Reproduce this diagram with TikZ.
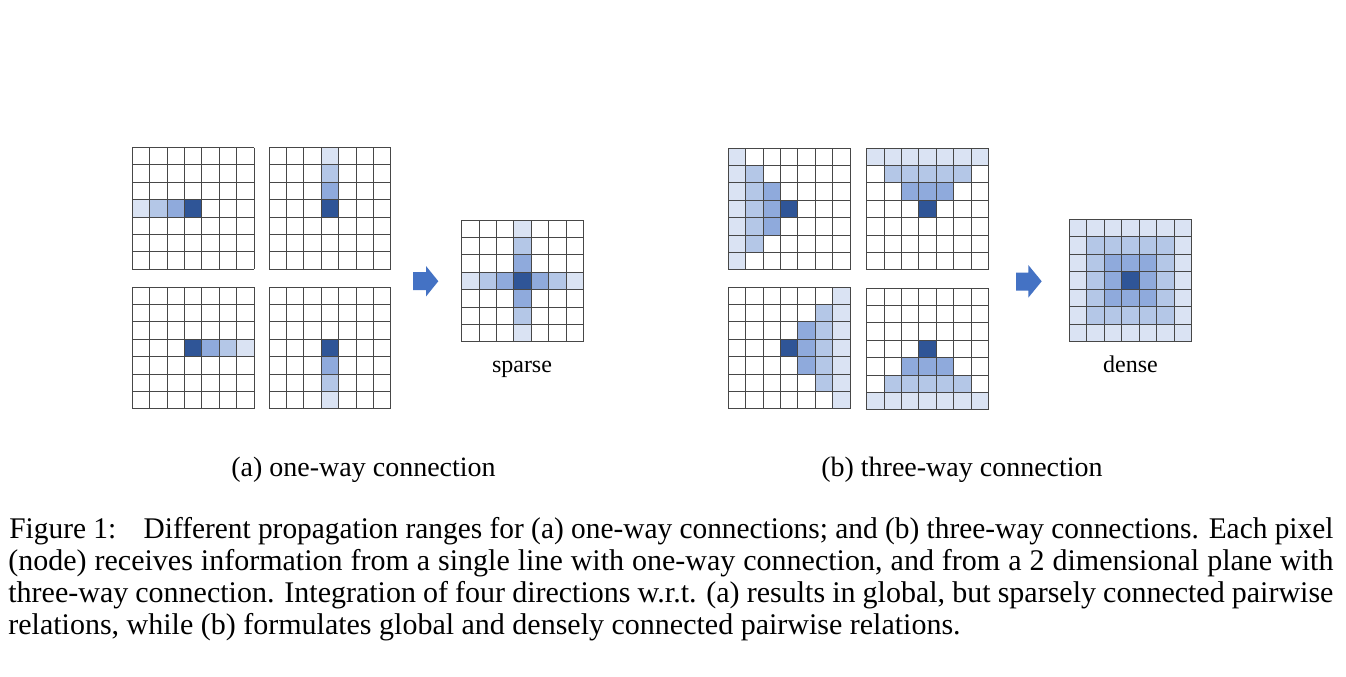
\documentclass[tikz,border=0pt]{standalone}
\usepackage{fontspec}
\setmainfont{Liberation Serif}
\usepackage{graphicx}
\definecolor{lv0}{HTML}{2F5597}
\definecolor{lv1}{HTML}{8FAADC}
\definecolor{lv2}{HTML}{B4C7E7}
\definecolor{lv3}{HTML}{DAE3F3}
\definecolor{arrowblue}{HTML}{4472C4}
\def\cs{17.4}
\tikzset{
  gl/.style={line width=0.5pt, draw=black!72},
  blockarrow/.style={fill=arrowblue, draw=none},
  sublabel/.style={anchor=base, inner sep=0pt, font=\fontsize{14}{16}\selectfont},
  gridlabel/.style={anchor=base, inner sep=0pt, font=\fontsize{12}{14}\selectfont},
  capline/.style={anchor=base west, inner sep=0pt}
}
\newcommand\capfont{\fontsize{15}{16}\selectfont}
\newcommand\cellgrid[3]{%
  \begin{scope}[shift={(#1,#2)}]
    \foreach \c/\r/\col in {#3} {\fill[\col] (\c*\cs,\r*\cs) rectangle ++(\cs,\cs);}
    \foreach \i in {0,...,7} {
      \draw[gl] (\i*\cs,0) -- (\i*\cs,7*\cs);
      \draw[gl] (0,\i*\cs) -- (7*\cs,\i*\cs);
    }
  \end{scope}}
\begin{document}
\begin{tikzpicture}[x=0.5pt,y=-0.5pt]
\useasboundingbox (0,0) rectangle (1346,676);
\fill[white] (0,0) rectangle (1346,676);

% (a) one-way connection
\cellgrid{132.3}{147.5}{3/3/lv0, 2/3/lv1, 1/3/lv2, 0/3/lv3}
\cellgrid{269}{147.5}{3/3/lv0, 3/2/lv1, 3/1/lv2, 3/0/lv3}
\cellgrid{132.3}{287}{3/3/lv0, 4/3/lv1, 5/3/lv2, 6/3/lv3}
\cellgrid{269}{287}{3/3/lv0, 3/4/lv1, 3/5/lv2, 3/6/lv3}
\fill[blockarrow] (413,272) -- (426,272) -- (426,266) -- (438.3,281.2) -- (426,296.5) -- (426,290) -- (413,290) -- cycle;
\cellgrid{461.7}{220}{3/3/lv0, 2/3/lv1, 1/3/lv2, 0/3/lv3, 4/3/lv1, 5/3/lv2, 6/3/lv3,
  3/2/lv1, 3/1/lv2, 3/0/lv3, 3/4/lv1, 3/5/lv2, 3/6/lv3}
\node[gridlabel] (sparse) at (522,372) {sparse};
\node[sublabel] (capa) at (363.5,476) {(a) one-way connection};

% (b) three-way connection
\cellgrid{728.3}{148}{0/0/lv3, 0/1/lv3, 0/2/lv3, 0/3/lv3, 0/4/lv3, 0/5/lv3, 0/6/lv3,
  1/1/lv2, 1/2/lv2, 1/3/lv2, 1/4/lv2, 1/5/lv2, 2/2/lv1, 2/3/lv1, 2/4/lv1, 3/3/lv0}
\cellgrid{866.7}{148}{0/0/lv3, 1/0/lv3, 2/0/lv3, 3/0/lv3, 4/0/lv3, 5/0/lv3, 6/0/lv3,
  1/1/lv2, 2/1/lv2, 3/1/lv2, 4/1/lv2, 5/1/lv2, 2/2/lv1, 3/2/lv1, 4/2/lv1, 3/3/lv0}
\cellgrid{728.3}{287}{6/0/lv3, 6/1/lv3, 6/2/lv3, 6/3/lv3, 6/4/lv3, 6/5/lv3, 6/6/lv3,
  5/1/lv2, 5/2/lv2, 5/3/lv2, 5/4/lv2, 5/5/lv2, 4/2/lv1, 4/3/lv1, 4/4/lv1, 3/3/lv0}
\cellgrid{866.7}{288}{0/6/lv3, 1/6/lv3, 2/6/lv3, 3/6/lv3, 4/6/lv3, 5/6/lv3, 6/6/lv3,
  1/5/lv2, 2/5/lv2, 3/5/lv2, 4/5/lv2, 5/5/lv2, 2/4/lv1, 3/4/lv1, 4/4/lv1, 3/3/lv0}
\fill[blockarrow] (1016,272.5) -- (1028.3,272.5) -- (1028.3,265) -- (1041.7,281.3) -- (1028.3,297.7) -- (1028.3,290.5) -- (1016,290.5) -- cycle;
\begin{scope}[shift={(1069,219)}]
  \foreach \c in {0,...,6} {
    \foreach \r in {0,...,6} {
      \pgfmathtruncatemacro\dd{max(abs(\c-3),abs(\r-3))}
      \fill[lv\dd] (\c*17.55,\r*17.55) rectangle ++(17.55,17.55);
    }
  }
  \foreach \i in {0,...,7} {
    \draw[gl] (\i*17.55,0) -- (\i*17.55,7*17.55);
    \draw[gl] (0,\i*17.55) -- (7*17.55,\i*17.55);
  }
\end{scope}
\node[gridlabel] (dense) at (1130.5,372) {dense};
\node[sublabel] (capb) at (962,476) {(b) three-way connection};

% caption
\node[capline] (cap1) at (9,538) {\resizebox{662pt}{\height}{\capfont Figure 1:\hspace{0.6em} Different propagation ranges for (a) one-way connections; and (b) three-way connections. Each pixel}};
\node[capline] (cap2) at (8,570) {\capfont\makebox[662.5pt][s]{(node) receives information from a single line with one-way connection, and from a 2 dimensional plane with}};
\node[capline] (cap3) at (8,602) {\capfont\makebox[662.5pt][s]{three-way connection. Integration of four directions w.r.t. (a) results in global, but sparsely connected pairwise}};
\node[capline] (cap4) at (8,634) {\capfont relations, while (b) formulates global and densely connected pairwise relations.};
\end{tikzpicture}
\end{document}
